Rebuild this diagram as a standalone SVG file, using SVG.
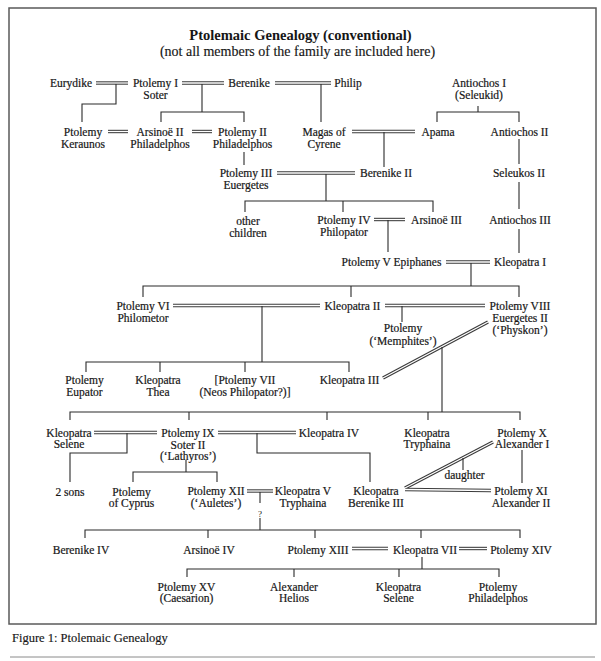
<svg xmlns="http://www.w3.org/2000/svg" xmlns:xlink="http://www.w3.org/1999/xlink" width="601" height="661" viewBox="0 0 601 661">
<style>
  text{font-family:"Liberation Serif","Times New Roman",serif;fill:#161616}
  .n{font-size:11.5px;text-anchor:middle;stroke:#161616;stroke-width:0.2}
  .title{font-size:14.5px;font-weight:bold;text-anchor:middle}
  .sub{font-size:14px;text-anchor:middle;stroke:#161616;stroke-width:0.15}
  .cap{font-size:12.5px;stroke:#161616;stroke-width:0.15}
  .q{font-size:9px;text-anchor:middle}
  .line{fill:none;stroke:#2a2a2a;stroke-width:1.1}
  .frame{fill:none;stroke:#5a5a5a;stroke-width:1.5}
</style>
<defs>
  <g id="mar" fill="none">
    <path d="M96,83H128"/>
    <path d="M182,83H224"/>
    <path d="M275,83H331"/>
    <path d="M108,131.5H128"/>
    <path d="M192,131.5H212"/>
    <path d="M352,131.5H415"/>
    <path d="M277,173H355"/>
    <path d="M374,219.5H405"/>
    <path d="M446,262H490"/>
    <path d="M173,305.5H320"/>
    <path d="M385,305.5H485"/>
    <path d="M383,378L488,322"/>
    <path d="M94,432.5H157"/>
    <path d="M218,432.5H296"/>
    <path d="M247,491H273"/>
    <path d="M405,488L493,442"/>
    <path d="M405,489.5L491,490.5"/>
    <path d="M352,548.5H388"/>
    <path d="M459,548.5H487"/>
  </g>
</defs>
<rect class="frame" x="9" y="8" width="587" height="616"/>
<text class="title" x="300.5" y="40">Ptolemaic Genealogy (conventional)</text>
<text class="sub" x="297.5" y="56">(not all members of the family are included here)</text>

<g id="connectors">
  <use xlink:href="#mar" stroke="#3a3a3a" stroke-width="3.4"/>
  <use xlink:href="#mar" stroke="#ffffff" stroke-width="1.3"/>
  <path class="line" d="M116,84V104H82V122"/>
  <path class="line" d="M202,84V112M161,122V112H244V122"/>
  <path class="line" d="M321,84V122"/>
  <path class="line" d="M478,106V112M437,122V112H519V122"/>
  <path class="line" d="M244,152V165"/>
  <path class="line" d="M384,132V167"/>
  <path class="line" d="M519,139V164"/>
  <path class="line" d="M519,182V209"/>
  <path class="line" d="M519,229V253"/>
  <path class="line" d="M326,174V201M245,212V201H433V212M343,201V212"/>
  <path class="line" d="M388,220V252"/>
  <path class="line" d="M471,263V286M143,297V286H519V297M351,286V297"/>
  <path class="line" d="M262,306V362M86,372V362H349V372M160,362V372M245,362V372"/>
  <path class="line" d="M402,306V322"/>
  <path class="line" d="M442,347V412M70,420V412H520V420M189,412V420M327,412V420M428,412V420"/>
  <path class="line" d="M127,433V453H70V482"/>
  <path class="line" d="M257,433V453H370V482"/>
  <path class="line" d="M186,460V472M133,482V472H217V482"/>
  <path class="line" d="M260,492V503M260,518V530M85,538V530H520V538M208,530V538M315,530V538M421,530V538"/>
  <path class="line" d="M463,458V470"/>
  <path class="line" d="M522,450V483"/>
  <path class="line" d="M422,557V569M187,577V569H499V577M294,569V577M399,569V577"/>
  <text class="q" x="260" y="517">?</text>
</g>

<g id="eurydike"><text class="n" x="71" y="87">Eurydike</text></g>
<g id="ptolemy1"><text class="n" x="155.5" y="87">Ptolemy I</text><text class="n" x="155.5" y="99">Soter</text></g>
<g id="berenike1"><text class="n" x="249" y="87">Berenike</text></g>
<g id="philip"><text class="n" x="348" y="87">Philip</text></g>
<g id="antiochos1"><text class="n" x="479" y="87">Antiochos I</text><text class="n" x="479" y="99">(Seleukid)</text></g>
<g id="keraunos"><text class="n" x="83" y="136">Ptolemy</text><text class="n" x="83" y="148">Keraunos</text></g>
<g id="arsinoe2"><text class="n" x="160" y="136">Arsinoë II</text><text class="n" x="160" y="148">Philadelphos</text></g>
<g id="ptolemy2"><text class="n" x="242.5" y="136">Ptolemy II</text><text class="n" x="242.5" y="148">Philadelphos</text></g>
<g id="magas"><text class="n" x="324" y="136">Magas of</text><text class="n" x="324" y="148">Cyrene</text></g>
<g id="apama"><text class="n" x="438" y="136">Apama</text></g>
<g id="antiochos2"><text class="n" x="519.5" y="136">Antiochos II</text></g>
<g id="ptolemy3"><text class="n" x="246" y="177">Ptolemy III</text><text class="n" x="246" y="189">Euergetes</text></g>
<g id="berenike2"><text class="n" x="386" y="177">Berenike II</text></g>
<g id="seleukos2"><text class="n" x="519" y="177">Seleukos II</text></g>
<g id="other"><text class="n" x="248" y="225">other</text><text class="n" x="248" y="236.5">children</text></g>
<g id="ptolemy4"><text class="n" x="344" y="224">Ptolemy IV</text><text class="n" x="344" y="236">Philopator</text></g>
<g id="arsinoe3"><text class="n" x="436.5" y="224">Arsinoë III</text></g>
<g id="antiochos3"><text class="n" x="520" y="224">Antiochos III</text></g>
<g id="ptolemy5"><text class="n" x="391.5" y="266">Ptolemy V Epiphanes</text></g>
<g id="kleopatra1"><text class="n" x="520" y="266">Kleopatra I</text></g>
<g id="ptolemy6"><text class="n" x="143" y="310">Ptolemy VI</text><text class="n" x="143" y="322">Philometor</text></g>
<g id="kleopatra2"><text class="n" x="352.5" y="310">Kleopatra II</text></g>
<g id="ptolemy8"><text class="n" x="520" y="310">Ptolemy VIII</text><text class="n" x="520" y="321.5">Euergetes II</text><text class="n" x="520" y="333.5">(‘Physkon’)</text></g>
<g id="memphites"><text class="n" x="403" y="332">Ptolemy</text><text class="n" x="403" y="345">(‘Memphites’)</text></g>
<g id="eupator"><text class="n" x="84.5" y="384">Ptolemy</text><text class="n" x="84.5" y="396">Eupator</text></g>
<g id="thea"><text class="n" x="158" y="384">Kleopatra</text><text class="n" x="158" y="396">Thea</text></g>
<g id="ptolemy7"><text class="n" x="245" y="384">[Ptolemy VII</text><text class="n" x="245" y="396">(Neos Philopator?)]</text></g>
<g id="kleopatra3"><text class="n" x="349.5" y="384">Kleopatra III</text></g>
<g id="selene1"><text class="n" x="69" y="437">Kleopatra</text><text class="n" x="69" y="448">Selene</text></g>
<g id="ptolemy9"><text class="n" x="188" y="437">Ptolemy IX</text><text class="n" x="188" y="448.5">Soter II</text><text class="n" x="188" y="460">(‘Lathyros’)</text></g>
<g id="kleopatra4"><text class="n" x="329" y="437">Kleopatra IV</text></g>
<g id="tryphaina"><text class="n" x="427" y="437">Kleopatra</text><text class="n" x="427" y="448">Tryphaina</text></g>
<g id="ptolemy10"><text class="n" x="522" y="437">Ptolemy X</text><text class="n" x="522" y="448">Alexander I</text></g>
<g id="daughter"><text class="n" x="464.5" y="479">daughter</text></g>
<g id="sons"><text class="n" x="70" y="496">2 sons</text></g>
<g id="cyprus"><text class="n" x="131.5" y="495.5">Ptolemy</text><text class="n" x="131.5" y="507">of Cyprus</text></g>
<g id="ptolemy12"><text class="n" x="216" y="495">Ptolemy XII</text><text class="n" x="216" y="507">(‘Auletes’)</text></g>
<g id="kleopatra5"><text class="n" x="303" y="495">Kleopatra V</text><text class="n" x="303" y="507">Tryphaina</text></g>
<g id="berenike3"><text class="n" x="376" y="495">Kleopatra</text><text class="n" x="376" y="506.5">Berenike III</text></g>
<g id="ptolemy11"><text class="n" x="521" y="495">Ptolemy XI</text><text class="n" x="521" y="506.5">Alexander II</text></g>
<g id="berenike4"><text class="n" x="81" y="554">Berenike IV</text></g>
<g id="arsinoe4"><text class="n" x="209" y="554">Arsinoë IV</text></g>
<g id="ptolemy13"><text class="n" x="318" y="554">Ptolemy XIII</text></g>
<g id="kleopatra7"><text class="n" x="425" y="554">Kleopatra VII</text></g>
<g id="ptolemy14"><text class="n" x="521" y="554">Ptolemy XIV</text></g>
<g id="caesarion"><text class="n" x="186.5" y="590.5">Ptolemy XV</text><text class="n" x="186.5" y="602">(Caesarion)</text></g>
<g id="helios"><text class="n" x="294" y="590.5">Alexander</text><text class="n" x="294" y="602">Helios</text></g>
<g id="selene2"><text class="n" x="398.5" y="590.5">Kleopatra</text><text class="n" x="398.5" y="602">Selene</text></g>
<g id="philadelphos"><text class="n" x="498" y="590.5">Ptolemy</text><text class="n" x="498" y="602">Philadelphos</text></g>

<text class="cap" x="12" y="642">Figure 1: Ptolemaic Genealogy</text>
<path d="M10,657H595" fill="none" stroke="#8a8a8a" stroke-width="1"/>
</svg>
